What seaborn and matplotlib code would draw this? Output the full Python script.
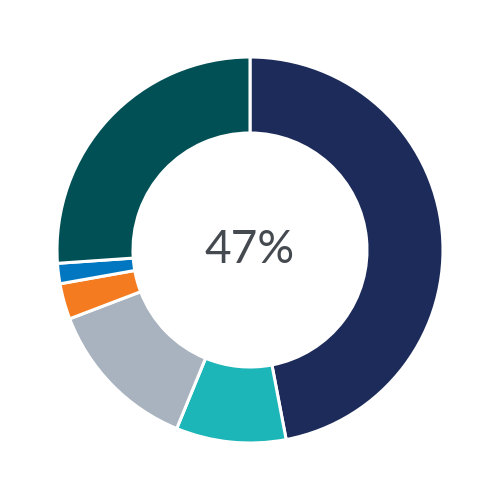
import matplotlib.pyplot as plt
import seaborn as sns

sns.set_theme(style="white")
plt.rcParams['font.family'] = ['Lato', 'DejaVu Sans']

# Slices clockwise from 12 o'clock
labels = ["Navy", "Teal", "Gray", "Orange", "Blue", "Green"]
shares = [47, 9.2, 13, 3, 1.7, 26.1]
colors = ["#1c2b5a", "#1cb5b8", "#a9b3bf", "#f47b20", "#0077c0", "#005055"]
center_label = "47%"

fig = plt.figure(figsize=(5, 5), dpi=100)
ax = fig.add_axes([0, 0, 1, 1])
ax.pie(shares, colors=colors, startangle=90, counterclock=False,
       radius=0.772, wedgeprops=dict(width=0.304, edgecolor="white", linewidth=2.2))
ax.text(0, 0.0, center_label, ha="center", va="center", fontsize=33,
        color="#454a50")
ax.set_xlim(-1, 1)
ax.set_ylim(-1, 1)
ax.set_aspect("equal")
ax.axis("off")

plt.savefig("out.png", dpi=100, facecolor="white")
plt.close()
